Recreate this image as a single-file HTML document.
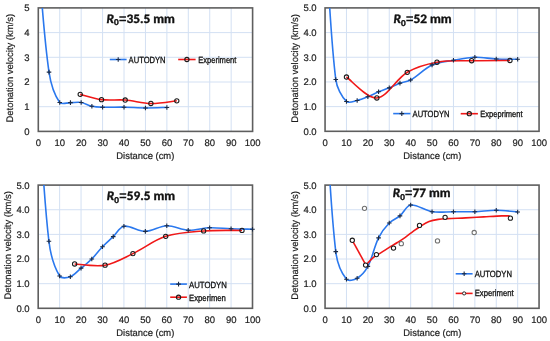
<!DOCTYPE html><html><head><meta charset="utf-8"><style>html,body{margin:0;padding:0;background:#fff;width:550px;height:341px;overflow:hidden}svg{display:block;text-rendering:geometricPrecision}text{font-family:"Liberation Sans",Arial,sans-serif;fill:#1e1e1e;stroke:#1e1e1e;stroke-width:0.2px}.lg{stroke-width:0.3px;fill:#111;stroke:#111}.t{font-family:Carlito,"Liberation Sans",sans-serif;font-weight:bold;fill:#111;stroke:#111;stroke-width:0.35px}</style></head><body>
<svg width="550" height="341" viewBox="0 0 550 341">
<rect width="550" height="341" fill="#fff"/>
<clipPath id="c0"><rect x="38.3" y="7.9" width="214.3" height="123.5"/></clipPath>
<path d="M59.73,7.9V131.4M81.16,7.9V131.4M102.59,7.9V131.4M124.02,7.9V131.4M145.45,7.9V131.4M166.88,7.9V131.4M188.31,7.9V131.4M209.74,7.9V131.4M231.17,7.9V131.4M38.3,106.7H252.6M38.3,82H252.6M38.3,57.3H252.6M38.3,32.6H252.6" stroke="#d3e0f3" stroke-width="1" fill="none"/>
<text x="29.6" y="134.85" font-size="9.5" text-anchor="end">0</text>
<text x="29.6" y="110.15" font-size="9.5" text-anchor="end">1</text>
<text x="29.6" y="85.45" font-size="9.5" text-anchor="end">2</text>
<text x="29.6" y="60.75" font-size="9.5" text-anchor="end">3</text>
<text x="29.6" y="36.05" font-size="9.5" text-anchor="end">4</text>
<text x="29.6" y="11.35" font-size="9.5" text-anchor="end">5</text>
<text x="38.4" y="145.6" font-size="9.5" text-anchor="middle">0</text>
<text x="59.83" y="145.6" font-size="9.5" text-anchor="middle">10</text>
<text x="81.26" y="145.6" font-size="9.5" text-anchor="middle">20</text>
<text x="102.69" y="145.6" font-size="9.5" text-anchor="middle">30</text>
<text x="124.12" y="145.6" font-size="9.5" text-anchor="middle">40</text>
<text x="145.55" y="145.6" font-size="9.5" text-anchor="middle">50</text>
<text x="166.98" y="145.6" font-size="9.5" text-anchor="middle">60</text>
<text x="188.41" y="145.6" font-size="9.5" text-anchor="middle">70</text>
<text x="209.84" y="145.6" font-size="9.5" text-anchor="middle">80</text>
<text x="231.27" y="145.6" font-size="9.5" text-anchor="middle">90</text>
<text x="252.7" y="145.6" font-size="9.5" text-anchor="middle">100</text>
<text x="145.3" y="159.3" font-size="9.6" text-anchor="middle" textLength="58" lengthAdjust="spacingAndGlyphs">Distance (cm)</text>
<text transform="translate(12.7,68.2) rotate(-90)" font-size="9.6" text-anchor="middle" textLength="108.5" lengthAdjust="spacingAndGlyphs">Detonation velocity (km/s)</text>
<text class="t" x="106.5" y="22.7" font-size="13" textLength="68.4" lengthAdjust="spacingAndGlyphs"><tspan font-style="italic">R</tspan><tspan font-size="9" dy="2.6">0</tspan><tspan dy="-2.6" style="stroke-width:0;font-family:Liberation Sans">=</tspan><tspan>35.5 mm</tspan></text>
<rect x="38.3" y="7.9" width="214.3" height="123.5" fill="none" stroke="#5e5e5e" stroke-width="1.6"/>
<g clip-path="url(#c0)">
<path d="M38.3,-42.73 C40.09,-23.59 43.43,34.28 49.02,72.12 C50.57,82.69 54.37,94.87 59.73,102.5 C61.51,105.04 66.87,102.62 70.44,102.62 C74.02,102.62 77.69,101.92 81.16,102.5 C84.83,103.11 88.21,105.4 91.88,106.21 C95.35,106.97 99.01,107.08 102.59,107.19 C109.72,107.41 116.88,107.07 124.02,107.19 C131.17,107.32 138.31,107.89 145.45,107.94 C152.59,107.98 163.31,107.52 166.88,107.44" stroke="#2a78ee" stroke-width="1.6" fill="none"/>
<path d="M80.2,94.35 C83.75,95.24 94.3,98.75 101.52,99.66 C109.3,100.64 117.34,99.42 125.2,100.03 C133.8,100.7 142.31,103.36 150.89,103.49 C159.51,103.62 172.48,101.25 176.8,100.8" stroke="#f01818" stroke-width="1.6" fill="none"/>
</g>
<path d="M46.72,72.12H51.31M49.02,69.82V74.42" stroke="#1b2a44" stroke-width="1.1" fill="none"/>
<path d="M57.43,102.5H62.03M59.73,100.2V104.8" stroke="#1b2a44" stroke-width="1.1" fill="none"/>
<path d="M68.14,102.62H72.74M70.44,100.32V104.92" stroke="#1b2a44" stroke-width="1.1" fill="none"/>
<path d="M78.86,102.5H83.46M81.16,100.2V104.8" stroke="#1b2a44" stroke-width="1.1" fill="none"/>
<path d="M89.58,106.21H94.17M91.88,103.91V108.51" stroke="#1b2a44" stroke-width="1.1" fill="none"/>
<path d="M100.29,107.19H104.89M102.59,104.89V109.49" stroke="#1b2a44" stroke-width="1.1" fill="none"/>
<path d="M121.72,107.19H126.32M124.02,104.89V109.49" stroke="#1b2a44" stroke-width="1.1" fill="none"/>
<path d="M143.15,107.94H147.75M145.45,105.64V110.23" stroke="#1b2a44" stroke-width="1.1" fill="none"/>
<path d="M164.58,107.44H169.18M166.88,105.14V109.74" stroke="#1b2a44" stroke-width="1.1" fill="none"/>
<circle cx="80.2" cy="94.35" r="2.15" fill="none" stroke="#1a1a1a" stroke-width="1.05"/>
<circle cx="101.52" cy="99.66" r="2.15" fill="none" stroke="#1a1a1a" stroke-width="1.05"/>
<circle cx="125.2" cy="100.03" r="2.15" fill="none" stroke="#1a1a1a" stroke-width="1.05"/>
<circle cx="150.89" cy="103.49" r="2.15" fill="none" stroke="#1a1a1a" stroke-width="1.05"/>
<circle cx="176.8" cy="100.8" r="2.15" fill="none" stroke="#1a1a1a" stroke-width="1.05"/>
<path d="M109.8,59.5H126.6" stroke="#2a78ee" stroke-width="1.6"/>
<path d="M115.9,59.5H120.5M118.2,57.2V61.8" stroke="#1b2a44" stroke-width="1.1" fill="none"/>
<path d="M178.2,59.5H195.6" stroke="#f01818" stroke-width="1.6"/>
<circle cx="186.9" cy="59.5" r="2.1" fill="none" stroke="#1a1a1a" stroke-width="1.1"/>
<text x="128.6" y="63" class="lg" font-size="9" textLength="37" lengthAdjust="spacingAndGlyphs">AUTODYN</text>
<text x="198.2" y="63" class="lg" font-size="9" textLength="38.2" lengthAdjust="spacingAndGlyphs">Experiment</text>
<clipPath id="c1"><rect x="325.06" y="7.9" width="214" height="123.4"/></clipPath>
<path d="M346.46,7.9V131.3M367.86,7.9V131.3M389.26,7.9V131.3M410.66,7.9V131.3M432.06,7.9V131.3M453.46,7.9V131.3M474.86,7.9V131.3M496.26,7.9V131.3M517.66,7.9V131.3M325.06,106.62H539.06M325.06,81.94H539.06M325.06,57.26H539.06M325.06,32.58H539.06" stroke="#d3e0f3" stroke-width="1" fill="none"/>
<text x="316.6" y="134.75" font-size="9.5" text-anchor="end">0.0</text>
<text x="316.6" y="110.07" font-size="9.5" text-anchor="end">1.0</text>
<text x="316.6" y="85.39" font-size="9.5" text-anchor="end">2.0</text>
<text x="316.6" y="60.71" font-size="9.5" text-anchor="end">3.0</text>
<text x="316.6" y="36.03" font-size="9.5" text-anchor="end">4.0</text>
<text x="316.6" y="11.35" font-size="9.5" text-anchor="end">5.0</text>
<text x="325.16" y="145.6" font-size="9.5" text-anchor="middle">0</text>
<text x="346.56" y="145.6" font-size="9.5" text-anchor="middle">10</text>
<text x="367.96" y="145.6" font-size="9.5" text-anchor="middle">20</text>
<text x="389.36" y="145.6" font-size="9.5" text-anchor="middle">30</text>
<text x="410.76" y="145.6" font-size="9.5" text-anchor="middle">40</text>
<text x="432.16" y="145.6" font-size="9.5" text-anchor="middle">50</text>
<text x="453.56" y="145.6" font-size="9.5" text-anchor="middle">60</text>
<text x="474.96" y="145.6" font-size="9.5" text-anchor="middle">70</text>
<text x="496.36" y="145.6" font-size="9.5" text-anchor="middle">80</text>
<text x="517.76" y="145.6" font-size="9.5" text-anchor="middle">90</text>
<text x="539.16" y="145.6" font-size="9.5" text-anchor="middle">100</text>
<text x="432.3" y="159.3" font-size="9.6" text-anchor="middle" textLength="58" lengthAdjust="spacingAndGlyphs">Distance (cm)</text>
<text transform="translate(297.5,68.4) rotate(-90)" font-size="9.6" text-anchor="middle" textLength="108.5" lengthAdjust="spacingAndGlyphs">Detonation velocity (km/s)</text>
<text class="t" x="393.5" y="23.2" font-size="13" textLength="58.2" lengthAdjust="spacingAndGlyphs"><tspan font-style="italic">R</tspan><tspan font-size="9" dy="2.6">0</tspan><tspan dy="-2.6" style="stroke-width:0;font-family:Liberation Sans">=</tspan><tspan>52 mm</tspan></text>
<rect x="325.06" y="7.9" width="214" height="123.4" fill="none" stroke="#5e5e5e" stroke-width="1.6"/>
<g clip-path="url(#c1)">
<path d="M325.06,-73.54 C326.84,-48.04 329.61,29.16 335.76,79.47 C336.74,87.49 341.51,96.58 346.46,101.44 C348.64,103.57 353.69,101.21 357.16,100.45 C360.82,99.65 364.36,98.16 367.86,96.75 C371.5,95.28 374.94,93.32 378.56,91.81 C382.07,90.36 385.74,89.29 389.26,87.86 C392.87,86.41 396.31,84.52 399.96,83.17 C403.45,81.89 407.46,81.79 410.66,79.97 C418.16,75.7 424.29,68.49 432.06,64.91 C438.56,61.91 446.28,61.51 453.46,60.22 C460.54,58.96 467.7,57.47 474.86,57.26 C481.97,57.05 489.12,58.66 496.26,58.99 C503.38,59.32 514.09,59.19 517.66,59.23" stroke="#2a78ee" stroke-width="1.6" fill="none"/>
<path d="M346.46,77 C351.52,80.5 367.1,98.73 376.85,97.98 C387.35,97.17 396.04,78.98 407.24,72.31 C416.08,67.05 426.78,64.03 436.98,62.2 C448.25,60.17 460.09,60.99 471.65,60.72 C484.41,60.41 503.57,60.51 509.96,60.47" stroke="#f01818" stroke-width="1.6" fill="none"/>
</g>
<path d="M333.46,79.47H338.06M335.76,77.17V81.77" stroke="#1b2a44" stroke-width="1.1" fill="none"/>
<path d="M344.16,101.44H348.76M346.46,99.14V103.74" stroke="#1b2a44" stroke-width="1.1" fill="none"/>
<path d="M354.86,100.45H359.46M357.16,98.15V102.75" stroke="#1b2a44" stroke-width="1.1" fill="none"/>
<path d="M365.56,96.75H370.16M367.86,94.45V99.05" stroke="#1b2a44" stroke-width="1.1" fill="none"/>
<path d="M376.26,91.81H380.86M378.56,89.51V94.11" stroke="#1b2a44" stroke-width="1.1" fill="none"/>
<path d="M386.96,87.86H391.56M389.26,85.56V90.16" stroke="#1b2a44" stroke-width="1.1" fill="none"/>
<path d="M397.66,83.17H402.26M399.96,80.87V85.47" stroke="#1b2a44" stroke-width="1.1" fill="none"/>
<path d="M408.36,79.97H412.96M410.66,77.67V82.27" stroke="#1b2a44" stroke-width="1.1" fill="none"/>
<path d="M429.76,64.91H434.36M432.06,62.61V67.21" stroke="#1b2a44" stroke-width="1.1" fill="none"/>
<path d="M451.16,60.22H455.76M453.46,57.92V62.52" stroke="#1b2a44" stroke-width="1.1" fill="none"/>
<path d="M472.56,57.26H477.16M474.86,54.96V59.56" stroke="#1b2a44" stroke-width="1.1" fill="none"/>
<path d="M493.96,58.99H498.56M496.26,56.69V61.29" stroke="#1b2a44" stroke-width="1.1" fill="none"/>
<path d="M515.36,59.23H519.96M517.66,56.93V61.53" stroke="#1b2a44" stroke-width="1.1" fill="none"/>
<circle cx="346.46" cy="77" r="2.15" fill="none" stroke="#1a1a1a" stroke-width="1.05"/>
<circle cx="376.85" cy="97.98" r="2.15" fill="none" stroke="#1a1a1a" stroke-width="1.05"/>
<circle cx="407.24" cy="72.31" r="2.15" fill="none" stroke="#1a1a1a" stroke-width="1.05"/>
<circle cx="436.98" cy="62.2" r="2.15" fill="none" stroke="#1a1a1a" stroke-width="1.05"/>
<circle cx="471.65" cy="60.72" r="2.15" fill="none" stroke="#1a1a1a" stroke-width="1.05"/>
<circle cx="509.96" cy="60.47" r="2.15" fill="none" stroke="#1a1a1a" stroke-width="1.05"/>
<path d="M393.2,113.6H410.4" stroke="#2a78ee" stroke-width="1.6"/>
<path d="M399.5,113.6H404.1M401.8,111.3V115.9" stroke="#1b2a44" stroke-width="1.1" fill="none"/>
<path d="M460.7,113.7H477.9" stroke="#f01818" stroke-width="1.6"/>
<circle cx="469.3" cy="113.7" r="2.1" fill="none" stroke="#1a1a1a" stroke-width="1.1"/>
<text x="412.6" y="117.2" class="lg" font-size="9" textLength="36.9" lengthAdjust="spacingAndGlyphs">AUTODYN</text>
<text x="480.3" y="117.2" class="lg" font-size="9" textLength="42.3" lengthAdjust="spacingAndGlyphs">Expepriment</text>
<clipPath id="c2"><rect x="38.2" y="185.1" width="214.3" height="123.2"/></clipPath>
<path d="M59.63,185.1V308.3M81.06,185.1V308.3M102.49,185.1V308.3M123.92,185.1V308.3M145.35,185.1V308.3M166.78,185.1V308.3M188.21,185.1V308.3M209.64,185.1V308.3M231.07,185.1V308.3M38.2,283.66H252.5M38.2,259.02H252.5M38.2,234.38H252.5M38.2,209.74H252.5" stroke="#d3e0f3" stroke-width="1" fill="none"/>
<text x="29.6" y="311.75" font-size="9.5" text-anchor="end">0.0</text>
<text x="29.6" y="287.11" font-size="9.5" text-anchor="end">1.0</text>
<text x="29.6" y="262.47" font-size="9.5" text-anchor="end">2.0</text>
<text x="29.6" y="237.83" font-size="9.5" text-anchor="end">3.0</text>
<text x="29.6" y="213.19" font-size="9.5" text-anchor="end">4.0</text>
<text x="29.6" y="188.55" font-size="9.5" text-anchor="end">5.0</text>
<text x="38.3" y="322.6" font-size="9.5" text-anchor="middle">0</text>
<text x="59.73" y="322.6" font-size="9.5" text-anchor="middle">10</text>
<text x="81.16" y="322.6" font-size="9.5" text-anchor="middle">20</text>
<text x="102.59" y="322.6" font-size="9.5" text-anchor="middle">30</text>
<text x="124.02" y="322.6" font-size="9.5" text-anchor="middle">40</text>
<text x="145.45" y="322.6" font-size="9.5" text-anchor="middle">50</text>
<text x="166.88" y="322.6" font-size="9.5" text-anchor="middle">60</text>
<text x="188.31" y="322.6" font-size="9.5" text-anchor="middle">70</text>
<text x="209.74" y="322.6" font-size="9.5" text-anchor="middle">80</text>
<text x="231.17" y="322.6" font-size="9.5" text-anchor="middle">90</text>
<text x="252.6" y="322.6" font-size="9.5" text-anchor="middle">100</text>
<text x="145.3" y="336.3" font-size="9.6" text-anchor="middle" textLength="58" lengthAdjust="spacingAndGlyphs">Distance (cm)</text>
<text transform="translate(10.6,245.3) rotate(-90)" font-size="9.6" text-anchor="middle" textLength="108.5" lengthAdjust="spacingAndGlyphs">Detonation velocity (km/s)</text>
<text class="t" x="106.8" y="199.9" font-size="13" textLength="68.4" lengthAdjust="spacingAndGlyphs"><tspan font-style="italic">R</tspan><tspan font-size="9" dy="2.6">0</tspan><tspan dy="-2.6" style="stroke-width:0;font-family:Liberation Sans">=</tspan><tspan>59.5 mm</tspan></text>
<rect x="38.2" y="185.1" width="214.3" height="123.2" fill="none" stroke="#5e5e5e" stroke-width="1.6"/>
<g clip-path="url(#c2)">
<path d="M38.2,96.4 C39.99,120.54 43.2,193.39 48.92,241.28 C50.34,253.26 54.12,266.89 59.63,276.02 C61.26,278.72 67.21,277.91 70.34,276.76 C74.36,275.28 77.53,271.06 81.06,268.14 C84.67,265.15 88.47,262.33 91.78,259.02 C95.61,255.18 98.73,250.63 102.49,246.7 C105.88,243.16 109.65,239.99 113.2,236.6 C116.8,233.17 119.6,226.94 123.92,226.25 C130.31,225.22 138.23,231.51 145.35,231.42 C152.51,231.34 159.59,225.96 166.78,225.76 C173.88,225.55 181.02,229.86 188.21,230.19 C195.3,230.52 202.48,227.97 209.64,227.73 C216.76,227.48 223.92,228.47 231.07,228.71 C238.21,228.96 248.93,229.12 252.5,229.21" stroke="#2a78ee" stroke-width="1.6" fill="none"/>
<path d="M74.63,263.95 C79.7,264.15 95.3,266.91 105.06,265.18 C114.73,263.46 123.85,257.91 132.92,253.6 C144.06,248.3 154.12,240.07 165.71,236.35 C177.69,232.51 190.93,231.92 203.64,230.93 C216.36,229.94 235.61,230.52 242,230.44" stroke="#f01818" stroke-width="1.6" fill="none"/>
</g>
<path d="M46.62,241.28H51.22M48.92,238.98V243.58" stroke="#1b2a44" stroke-width="1.1" fill="none"/>
<path d="M57.33,276.02H61.93M59.63,273.72V278.32" stroke="#1b2a44" stroke-width="1.1" fill="none"/>
<path d="M68.05,276.76H72.64M70.34,274.46V279.06" stroke="#1b2a44" stroke-width="1.1" fill="none"/>
<path d="M78.76,268.14H83.36M81.06,265.84V270.44" stroke="#1b2a44" stroke-width="1.1" fill="none"/>
<path d="M89.48,259.02H94.08M91.78,256.72V261.32" stroke="#1b2a44" stroke-width="1.1" fill="none"/>
<path d="M100.19,246.7H104.79M102.49,244.4V249" stroke="#1b2a44" stroke-width="1.1" fill="none"/>
<path d="M110.91,236.6H115.5M113.2,234.3V238.9" stroke="#1b2a44" stroke-width="1.1" fill="none"/>
<path d="M121.62,226.25H126.22M123.92,223.95V228.55" stroke="#1b2a44" stroke-width="1.1" fill="none"/>
<path d="M143.05,231.42H147.65M145.35,229.12V233.72" stroke="#1b2a44" stroke-width="1.1" fill="none"/>
<path d="M164.48,225.76H169.08M166.78,223.46V228.06" stroke="#1b2a44" stroke-width="1.1" fill="none"/>
<path d="M185.91,230.19H190.51M188.21,227.89V232.49" stroke="#1b2a44" stroke-width="1.1" fill="none"/>
<path d="M207.34,227.73H211.94M209.64,225.43V230.03" stroke="#1b2a44" stroke-width="1.1" fill="none"/>
<path d="M228.77,228.71H233.37M231.07,226.41V231.01" stroke="#1b2a44" stroke-width="1.1" fill="none"/>
<path d="M250.2,229.21H254.8M252.5,226.91V231.51" stroke="#1b2a44" stroke-width="1.1" fill="none"/>
<circle cx="74.63" cy="263.95" r="2.15" fill="none" stroke="#1a1a1a" stroke-width="1.05"/>
<circle cx="105.06" cy="265.18" r="2.15" fill="none" stroke="#1a1a1a" stroke-width="1.05"/>
<circle cx="132.92" cy="253.6" r="2.15" fill="none" stroke="#1a1a1a" stroke-width="1.05"/>
<circle cx="165.71" cy="236.35" r="2.15" fill="none" stroke="#1a1a1a" stroke-width="1.05"/>
<circle cx="203.64" cy="230.93" r="2.15" fill="none" stroke="#1a1a1a" stroke-width="1.05"/>
<circle cx="242" cy="230.44" r="2.15" fill="none" stroke="#1a1a1a" stroke-width="1.05"/>
<path d="M170.2,284.1H186.9" stroke="#2a78ee" stroke-width="1.6"/>
<path d="M176.25,284.1H180.85M178.55,281.8V286.4" stroke="#1b2a44" stroke-width="1.1" fill="none"/>
<path d="M170.2,297.2H186.9" stroke="#f01818" stroke-width="1.6"/>
<circle cx="178.55" cy="297.2" r="2.1" fill="none" stroke="#1a1a1a" stroke-width="1.1"/>
<text x="189.1" y="287.5" class="lg" font-size="9" textLength="37.8" lengthAdjust="spacingAndGlyphs">AUTODYN</text>
<text x="189.1" y="300.6" class="lg" font-size="9" textLength="36.8" lengthAdjust="spacingAndGlyphs">Experimen</text>
<clipPath id="c3"><rect x="325.06" y="185.1" width="214" height="123.2"/></clipPath>
<path d="M346.46,185.1V308.3M367.86,185.1V308.3M389.26,185.1V308.3M410.66,185.1V308.3M432.06,185.1V308.3M453.46,185.1V308.3M474.86,185.1V308.3M496.26,185.1V308.3M517.66,185.1V308.3M325.06,283.66H539.06M325.06,259.02H539.06M325.06,234.38H539.06M325.06,209.74H539.06" stroke="#d3e0f3" stroke-width="1" fill="none"/>
<text x="316.6" y="311.75" font-size="9.5" text-anchor="end">0.0</text>
<text x="316.6" y="287.11" font-size="9.5" text-anchor="end">1.0</text>
<text x="316.6" y="262.47" font-size="9.5" text-anchor="end">2.0</text>
<text x="316.6" y="237.83" font-size="9.5" text-anchor="end">3.0</text>
<text x="316.6" y="213.19" font-size="9.5" text-anchor="end">4.0</text>
<text x="316.6" y="188.55" font-size="9.5" text-anchor="end">5.0</text>
<text x="325.16" y="322.6" font-size="9.5" text-anchor="middle">0</text>
<text x="346.56" y="322.6" font-size="9.5" text-anchor="middle">10</text>
<text x="367.96" y="322.6" font-size="9.5" text-anchor="middle">20</text>
<text x="389.36" y="322.6" font-size="9.5" text-anchor="middle">30</text>
<text x="410.76" y="322.6" font-size="9.5" text-anchor="middle">40</text>
<text x="432.16" y="322.6" font-size="9.5" text-anchor="middle">50</text>
<text x="453.56" y="322.6" font-size="9.5" text-anchor="middle">60</text>
<text x="474.96" y="322.6" font-size="9.5" text-anchor="middle">70</text>
<text x="496.36" y="322.6" font-size="9.5" text-anchor="middle">80</text>
<text x="517.76" y="322.6" font-size="9.5" text-anchor="middle">90</text>
<text x="539.16" y="322.6" font-size="9.5" text-anchor="middle">100</text>
<text x="432.3" y="336.3" font-size="9.6" text-anchor="middle" textLength="58" lengthAdjust="spacingAndGlyphs">Distance (cm)</text>
<text transform="translate(297.5,245.4) rotate(-90)" font-size="9.6" text-anchor="middle" textLength="108.5" lengthAdjust="spacingAndGlyphs">Detonation velocity (km/s)</text>
<text class="t" x="392.8" y="197.1" font-size="13" textLength="57.7" lengthAdjust="spacingAndGlyphs"><tspan font-style="italic">R</tspan><tspan font-size="9" dy="2.6">0</tspan><tspan dy="-2.6" style="stroke-width:0;font-family:Liberation Sans">=</tspan><tspan>77 mm</tspan></text>
<rect x="325.06" y="185.1" width="214" height="123.2" fill="none" stroke="#5e5e5e" stroke-width="1.6"/>
<g clip-path="url(#c3)">
<path d="M325.06,97.63 C326.84,123.29 329.77,200.83 335.76,251.63 C336.91,261.37 341.23,272.72 346.46,279.22 C348.36,281.59 354.29,279.96 357.16,278.24 C361.42,275.69 365.41,271.04 367.86,266.41 C372.55,257.57 374.1,246.88 378.56,237.83 C381.23,232.42 385.08,227.33 389.26,223.05 C392.21,220.02 396.69,218.65 399.96,215.9 C403.83,212.65 406.33,205.62 410.66,205.06 C417.03,204.23 424.76,210.58 432.06,211.71 C439.03,212.79 446.33,211.71 453.46,211.71 C460.59,211.71 467.74,211.96 474.86,211.71 C482,211.46 489.13,210.19 496.26,210.23 C503.4,210.27 514.09,211.67 517.66,211.96" stroke="#2a78ee" stroke-width="1.6" fill="none"/>
<path d="M352.3,240.29L365.93,265.18" stroke="#f01818" stroke-width="1.6" fill="none"/>
<path d="M365.93,265.18 C367.15,263.91 370.52,259.76 373.21,257.54 C375.59,255.58 378.5,254.27 381.13,252.61 C383.85,250.9 386.53,249.13 389.26,247.44 C391.95,245.77 394.71,244.2 397.39,242.51 C400.06,240.83 402.74,239.15 405.31,237.34 C408.09,235.38 410.69,233.18 413.44,231.18 C415.54,229.65 417.65,228.1 419.86,226.74 C422.86,224.9 425.83,222.87 429.06,221.57 C431.96,220.4 435.16,219.85 438.27,219.35 C441.22,218.87 444.25,218.77 447.25,218.61 C453.38,218.28 459.53,218.16 465.66,217.87 C471.65,217.59 477.64,217.21 483.63,216.89 C489.7,216.56 495.76,216.13 501.82,215.9 C504.39,215.8 508.24,215.9 509.53,215.9" stroke="#f01818" stroke-width="1.6" fill="none"/>
</g>
<path d="M333.46,251.63H338.06M335.76,249.33V253.93" stroke="#1b2a44" stroke-width="1.1" fill="none"/>
<path d="M344.16,279.22H348.76M346.46,276.92V281.52" stroke="#1b2a44" stroke-width="1.1" fill="none"/>
<path d="M354.86,278.24H359.46M357.16,275.94V280.54" stroke="#1b2a44" stroke-width="1.1" fill="none"/>
<path d="M365.56,266.41H370.16M367.86,264.11V268.71" stroke="#1b2a44" stroke-width="1.1" fill="none"/>
<path d="M376.26,237.83H380.86M378.56,235.53V240.13" stroke="#1b2a44" stroke-width="1.1" fill="none"/>
<path d="M386.96,223.05H391.56M389.26,220.75V225.35" stroke="#1b2a44" stroke-width="1.1" fill="none"/>
<path d="M397.66,215.9H402.26M399.96,213.6V218.2" stroke="#1b2a44" stroke-width="1.1" fill="none"/>
<path d="M408.36,205.06H412.96M410.66,202.76V207.36" stroke="#1b2a44" stroke-width="1.1" fill="none"/>
<path d="M429.76,211.71H434.36M432.06,209.41V214.01" stroke="#1b2a44" stroke-width="1.1" fill="none"/>
<path d="M451.16,211.71H455.76M453.46,209.41V214.01" stroke="#1b2a44" stroke-width="1.1" fill="none"/>
<path d="M472.56,211.71H477.16M474.86,209.41V214.01" stroke="#1b2a44" stroke-width="1.1" fill="none"/>
<path d="M493.96,210.23H498.56M496.26,207.93V212.53" stroke="#1b2a44" stroke-width="1.1" fill="none"/>
<path d="M515.36,211.96H519.96M517.66,209.66V214.26" stroke="#1b2a44" stroke-width="1.1" fill="none"/>
<circle cx="364.5" cy="208.31" r="2.15" fill="#fff" stroke="#707070" stroke-width="1.05"/>
<circle cx="401.31" cy="243.69" r="2.15" fill="#fff" stroke="#707070" stroke-width="1.05"/>
<circle cx="437.5" cy="240.91" r="2.15" fill="#fff" stroke="#707070" stroke-width="1.05"/>
<circle cx="474.2" cy="232.51" r="2.15" fill="#fff" stroke="#707070" stroke-width="1.05"/>
<circle cx="352.3" cy="240.29" r="2.15" fill="#fff" stroke="#1a1a1a" stroke-width="1.05"/>
<circle cx="365.59" cy="265.11" r="2.15" fill="#fff" stroke="#1a1a1a" stroke-width="1.05"/>
<circle cx="376.4" cy="254.58" r="2.15" fill="#fff" stroke="#1a1a1a" stroke-width="1.05"/>
<circle cx="393.5" cy="248.1" r="2.15" fill="#fff" stroke="#1a1a1a" stroke-width="1.05"/>
<circle cx="419.5" cy="225.41" r="2.15" fill="#fff" stroke="#1a1a1a" stroke-width="1.05"/>
<circle cx="445.09" cy="217.3" r="2.15" fill="#fff" stroke="#1a1a1a" stroke-width="1.05"/>
<circle cx="510.38" cy="218.19" r="2.15" fill="#fff" stroke="#1a1a1a" stroke-width="1.05"/>
<path d="M455.7,273.8H472.6" stroke="#2a78ee" stroke-width="1.6"/>
<path d="M461.85,273.8H466.45M464.15,271.5V276.1" stroke="#1b2a44" stroke-width="1.1" fill="none"/>
<path d="M455.7,293.4H472.6" stroke="#f01818" stroke-width="1.6"/>
<circle cx="464.15" cy="293.4" r="1.6" fill="#fff" stroke="#1a1a1a" stroke-width="0.9"/>
<text x="474.7" y="277.4" class="lg" font-size="9" textLength="37.3" lengthAdjust="spacingAndGlyphs">AUTODYN</text>
<text x="474.7" y="295.6" class="lg" font-size="9" textLength="39" lengthAdjust="spacingAndGlyphs">Experiment</text>
</svg></body></html>
